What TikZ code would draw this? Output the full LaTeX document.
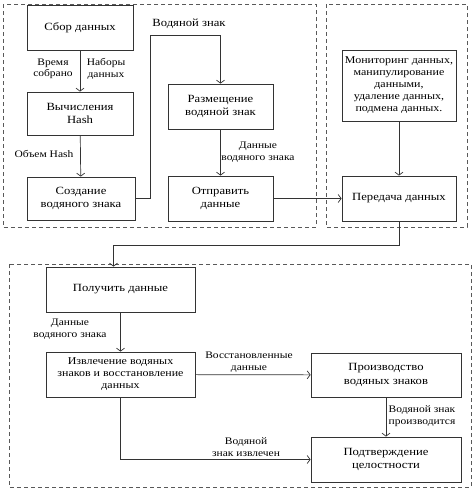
\documentclass[tikz,border=0pt]{standalone}
\usepackage{fontspec}
\setmainfont{Liberation Serif}[FakeStretch=1.15]
\usetikzlibrary{arrows.meta}

\tikzset{
  block/.style={draw=black!80, line width=0.8pt, align=center,
    font=\fontsize{11}{13.5}\selectfont, inner sep=2pt},
  tight/.style={font=\fontsize{10.4}{12}\selectfont},
  lbl/.style={align=center, font=\fontsize{10}{11.5}\selectfont, inner sep=0pt},
  arr/.style={draw=black!80, line width=0.7pt, -{Straight Barb[length=3pt,width=8pt]}},
  frame/.style={draw=black!65, line width=0.7pt, dash pattern=on 4pt off 3pt}
}

\begin{document}
\begin{tikzpicture}[x=1pt, y=-1pt]
\useasboundingbox (0,0) rectangle (474,490);

% Frames
\draw[frame] (3,4) rectangle (316,227);
\draw[frame] (326,4) rectangle (467,227);
\draw[frame] (9,264) rectangle (471,487);

% Embedding side
\node[block, minimum width=106, minimum height=45] (collect) at (80,27.5) {Сбор данных};
\node[block, minimum width=106, minimum height=43] (hash) at (80,113.5) {Вычисления\\Hash};
\node[block, minimum width=108, minimum height=43] (create) at (81,198.5) {Создание\\водяного знака};
\node[block, minimum width=105, minimum height=45] (place) at (220.5,106.5) {Размещение\\водяной знак};
\node[block, minimum width=105, minimum height=45] (send) at (220.5,198.5) {Отправить\\данные};

% Channel
\node[block, tight, minimum width=114, minimum height=71] (monitor) at (399,85.5) {Мониторинг данных,\\манипулирование\\данными,\\удаление данных,\\подмена данных.};
\node[block, minimum width=114, minimum height=45] (transfer) at (399,198.5) {Передача данных};

% Verification side
\node[block, minimum width=149, minimum height=45] (receive) at (120.5,289.5) {Получить данные};
\node[block, tight, minimum width=149, minimum height=45] (extract) at (120.5,374.5) {Извлечение водяных\\знаков и восстановление\\данных};
\node[block, minimum width=150, minimum height=44] (produce) at (386,375) {Производство\\водяных знаков};
\node[block, minimum width=150, minimum height=45] (confirm) at (386,459.5) {Подтверждение\\целостности};

% Connections
\draw[arr] (collect) -- (hash);
\draw[arr] (hash) -- (create);
\draw[arr] (create.east) -- ++(15,0) |- (220.5,35) -- (place.north);
\draw[arr] (place) -- (send);
\draw[arr] (send) -- (transfer);
\draw[arr] (monitor) -- (transfer);
\draw[arr] (transfer.south) |- ([xshift=-7pt,yshift=21pt]receive.north) -- ([xshift=-7pt]receive.north);
\draw[arr] (receive) -- (extract);
\draw[arr] (extract) -- (produce);
\draw[arr] (extract.south) |- (confirm.west);
\draw[arr] (produce) -- (confirm);

% Labels
\node[lbl] (l1) at (53,69) {Время\\собрано};
\node[lbl] (l2) at (106,69) {Наборы\\данных};
\node[lbl] (l3) at (44,154) {Объем Hash};
\node[lbl, font=\fontsize{11}{13}\selectfont] (l4) at (189,24) {Водяной знак};
\node[lbl] (l5) at (258,152) {Данные\\водяного знака};
\node[lbl] (l6) at (70,329) {Данные\\водяного знака};
\node[lbl] (l7) at (249,362) {Восстановленные\\данные};
\node[lbl] (l8) at (246,447) {Водяной\\знак извлечен};
\node[lbl] (l9) at (422,416) {Водяной знак\\производится};
\end{tikzpicture}
\end{document}
